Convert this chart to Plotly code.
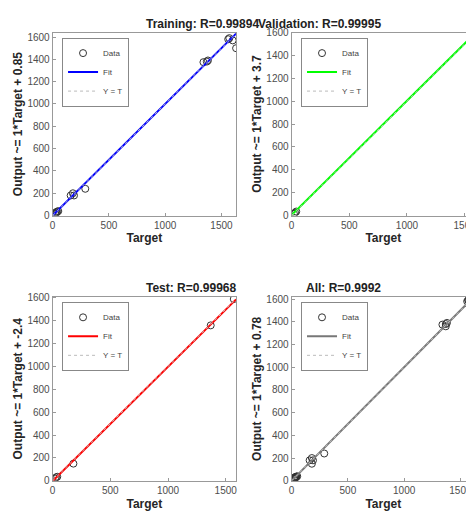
import plotly.graph_objects as go

train_t = [20, 25, 30, 35, 40, 50, 160, 180, 190, 290, 1340, 1370, 1380, 1560, 1570, 1600, 1630]
train_o = [20, 15, 30, 25, 35, 40, 180, 200, 180, 240, 1375, 1380, 1390, 1580, 1590, 1570, 1500]
val_t = [20, 30, 40, 1580]
val_o = [15, 25, 35, 1590]
test_t = [20, 30, 40, 180, 1370, 1570]
test_o = [20, 30, 35, 150, 1360, 1590]
all_t = train_t + val_t + test_t
all_o = train_o + val_o + test_o

titles = ["Training: R=0.99894", "Validation: R=0.99995", "Test: R=0.99968", "All: R=0.9992"]
intercepts = [0.85, 3.7, -2.4, 0.78]
ylabels = ["Output ~= 1*Target + 0.85", "Output ~= 1*Target + 3.7",
           "Output ~= 1*Target + -2.4", "Output ~= 1*Target + 0.78"]
fit_colors = ["#0000ff", "#00ff00", "#ff0000", "#777777"]
xmax = [1630, 1590, 1590, 1630]
ymax = [1640, 1600, 1610, 1620]
sets = [(train_t, train_o), (val_t, val_o), (test_t, test_o), (all_t, all_o)]

W, H = 474, 514
xd = [(42 / W, 227 / W), (283 / W, 468 / W)]
yd = [(1 - 207 / H, 1 - 20 / H), (1 - 478 / H, 1 - 290 / H)]

fig = go.Figure()
font = "Liberation Sans, Arial, sans-serif"
layout = dict(width=W, height=H, margin=dict(l=0, r=0, t=0, b=0),
              plot_bgcolor="white", paper_bgcolor="white",
              font=dict(family=font, color="#262626"), annotations=[])
for i in range(4):
    r, c = divmod(i, 2)
    sfx = "" if i == 0 else str(i + 1)
    xa, ya = "x" + sfx, "y" + sfx
    lg = "legend" if i == 0 else "legend" + str(i + 1)
    t, o = sets[i]
    fx = [0, xmax[i]]
    fig.add_trace(go.Scatter(x=t, y=o, mode="markers", name="Data", xaxis=xa, yaxis=ya, legend=lg,
                             marker=dict(symbol="circle-open", size=7, color="#333333", line=dict(width=1))))
    fig.add_trace(go.Scatter(x=fx, y=[v + intercepts[i] for v in fx], mode="lines", name="Fit",
                             xaxis=xa, yaxis=ya, legend=lg, line=dict(color=fit_colors[i], width=2)))
    fig.add_trace(go.Scatter(x=fx, y=fx, mode="lines", name="Y = T", xaxis=xa, yaxis=ya, legend=lg,
                             line=dict(color="#bbbbbb", width=1, dash="dot")))
    axcommon = dict(showgrid=False, zeroline=False, showline=True, mirror=True, linecolor="#999999",
                    ticks="inside", ticklen=3, tickcolor="#999999", tickfont=dict(size=10, color="#4d4d4d"))
    layout["xaxis" + sfx] = dict(domain=xd[c], range=[0, xmax[i]], anchor=ya, dtick=500,
                                 title=dict(text="<b>Target</b>", font=dict(size=12), standoff=4), **axcommon)
    layout["yaxis" + sfx] = dict(domain=yd[r], range=[0, ymax[i]], anchor=xa, dtick=200,
                                 title=dict(text="<b>" + ylabels[i] + "</b>", font=dict(size=12), standoff=2), **axcommon)
    layout[lg] = dict(x=xd[c][0] + 0.02, y=yd[r][1] - 0.01, xanchor="left", yanchor="top",
                      bgcolor="white", bordercolor="#888888", borderwidth=1,
                      font=dict(size=8, color="#444444"), tracegroupgap=0, itemwidth=30)
    layout["annotations"].append(dict(text="<b>" + titles[i] + "</b>", xref="paper", yref="paper",
                                      x=(xd[c][0] + xd[c][1]) / 2, y=yd[r][1], yanchor="bottom",
                                      showarrow=False, font=dict(size=12, color="#222222")))
fig.update_layout(**layout)
fig.write_html("out.html")
